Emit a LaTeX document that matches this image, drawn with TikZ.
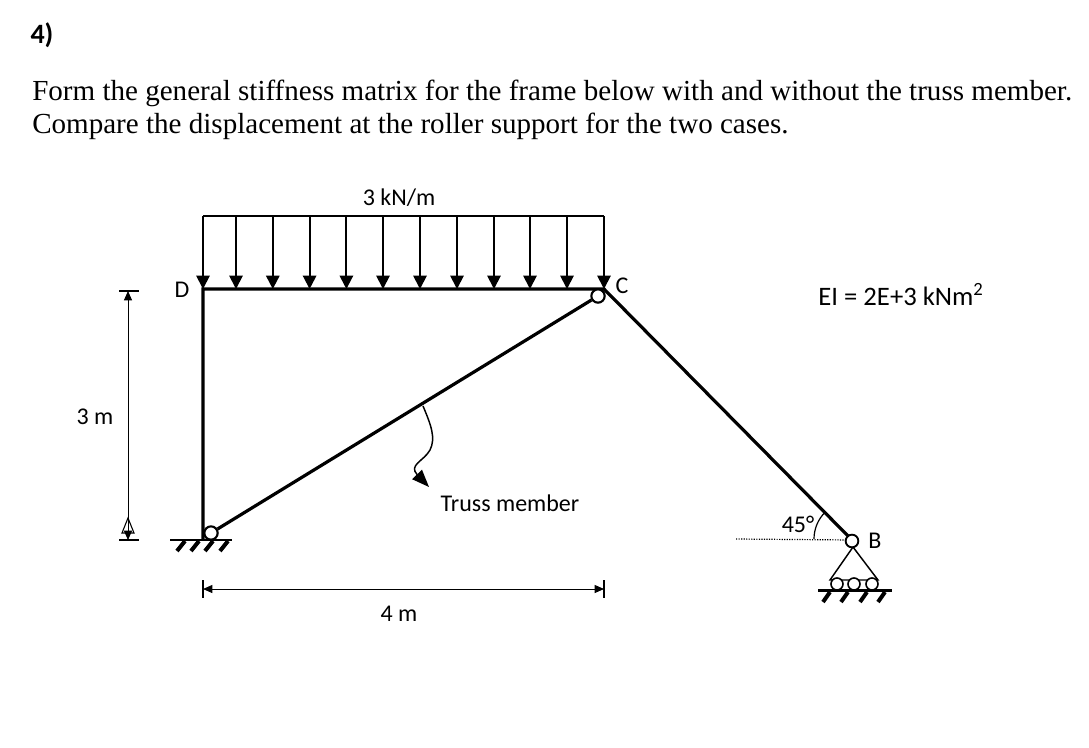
\documentclass[tikz,border=0pt]{standalone}
\usepackage{fontspec}
\setmainfont{Carlito}
\newfontfamily\timesfont{Liberation Serif}
\usetikzlibrary{arrows.meta}
\tikzset{
  member/.style={line width=2.4pt},
  thin line/.style={line width=0.9pt},
  load/.style={line width=1.4pt,-{Triangle[length=10pt,width=10pt]}},
  dimtip/.style={line width=0.7pt,{Triangle[length=7pt,width=6pt]}-{Triangle[length=7pt,width=6pt]}},
  hinge/.style={circle,draw,line width=1.6pt,fill=white,inner sep=0pt,minimum size=10pt},
  roller/.style={circle,draw,line width=1.2pt,fill=white,inner sep=0pt,minimum size=9pt},
  label/.style={font=\fontsize{18pt}{22pt}\selectfont,inner sep=0pt},
  para/.style={font=\timesfont\fontsize{21.8pt}{26pt}\selectfont,anchor=base west,inner sep=0pt},
  hatch/.style={line width=3pt}
}
\begin{document}
\begin{tikzpicture}[x=0.75pt,y=-0.75pt]
    \useasboundingbox (0,0) rectangle (1089,747);
    % heading and question
    \node[font=\bfseries\fontsize{21pt}{24pt}\selectfont,inner sep=0pt] (num) at (42,35) {4)};
    \node[para] (line1) at (32,100) {Form the general stiffness matrix for the frame below with and without the truss member.};
    \node[para] (line2) at (32,133) {Compare the displacement at the roller support for the two cases.};
    % joints
    \coordinate (D) at (203,289);
    \coordinate (C) at (604,289);
    \coordinate (A) at (203,540);
    \coordinate (Bend) at (852,540);
    % distributed load
    \coordinate (top0) at (203,216);
    \coordinate (top1) at (604,216);
    \draw[line width=1.1pt] (top0) -- (top1);
    \foreach \x in {203,236,272.8,309.6,346.4,383,420,457,494,530,567,604}
      \draw[load] (\x,216) -- (\x,289);
    % frame
    \draw[member] (A) -- (D) -- (C) -- (Bend);
    \node[hinge] (hingeC) at (598,296) {};
    \node[hinge] (hingeA) at (211,533) {};
    \draw[member] (hingeA) -- (hingeC);
    % support at A
    \coordinate (baseA0) at (170,540);
    \coordinate (baseA1) at (232,540);
    \draw[line width=1.8pt] (baseA0) -- (baseA1);
    \foreach \x in {185,199,213,228}
      \draw[hatch] (\x,541) -- (\x-8,551);
    % roller at B
    \draw[line width=0.9pt,densely dotted] (736,539) -- (Bend);
    \draw[thin line] (814,539) arc[start angle=180,end angle=225,radius=38];
    \coordinate (tri0) at (830,580);
    \coordinate (tri1) at (878,580);
    \draw[line width=1.1pt] (853,547) -- (tri0) -- (tri1) -- cycle;
    \node[hinge,minimum size=9.5pt,line width=1.4pt] (hingeB) at (852,541) {};
    \node[roller] (r1) at (837,584) {};
    \node[roller] (r2) at (854,584) {};
    \node[roller] (r3) at (872,584) {};
    \draw[line width=1.8pt] (818,590.5) -- (892,590.5);
    \foreach \x in {830,848,867,885}
      \draw[hatch] (\x,592) -- (\x-7,602);
    % dimensions
    \coordinate (t0) at (128,291);
    \coordinate (t1) at (128,540);
    \draw[dimtip] (t0) -- (t1);
    \draw[thin line] (119,291) -- (139,291);
    \draw[thin line] (119,540) -- (139,540);
    \draw[line width=0.8pt] (128,518) -- (122,533) -- (134,533) -- cycle;
    \coordinate (w0) at (203,589);
    \coordinate (w1) at (604,589);
    \draw[dimtip] (w0) -- (w1);
    \draw[thin line] (203,580) -- (203,598);
    \draw[thin line] (604,580) -- (604,598);
    % pointer to truss
    \coordinate (p0) at (423,406);
    \coordinate (p1) at (429,487);
    \draw[line width=1.1pt,-{Triangle[length=13pt,width=10pt]}] (p0) .. controls (431,425) and (436,438) .. (430,450) .. controls (424,461) and (408,465) .. (p1);
    % labels
    \node[label] (load) at (399,198) {3 kN/m};
    \node[label] (labD) at (182,290) {D};
    \node[label] (labC) at (622,286) {C};
    \node[label] (labB) at (875,541) {B};
    \node[label,font=\fontsize{20pt}{22pt}\selectfont] (labEI) at (901,295) {EI = 2E+3 kNm\textsuperscript{2}};
    \node[label] (lab3m) at (95,417) {3 m};
    \node[label] (lab4m) at (399,614) {4 m};
    \node[label] (labT) at (510,503) {Truss member};
    \node[label] (lab45) at (798,524) {45°};
\end{tikzpicture}
\end{document}
